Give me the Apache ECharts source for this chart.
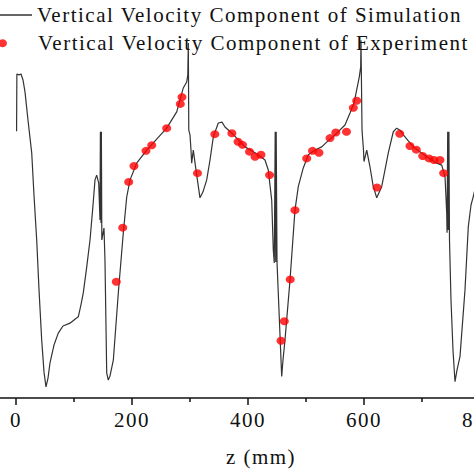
<!DOCTYPE html>
<html>
<head>
<meta charset="utf-8">
<script src="https://cdn.jsdelivr.net/npm/echarts@6/dist/echarts.min.js"></script>
<style>
  html, body { margin: 0; padding: 0; background: #fff; }
  #chart { width: 474px; height: 474px; }
  /* the original figure has wide tracking on all its text */
  #chart text { letter-spacing: 1.5px; }
</style>
</head>
<body>
<div id="chart"></div>
<script>
// simulation curve, z in mm, vertical velocity (arbitrary units, y axis is cropped off)
var simZ = [1,1.2,1.5,5.2,8.6,12.1,15.5,20.7,27.1,31,
  35.7,39.7,44.3,48.3,51.7,55.2,58.6,65.5,72.9,81,
  93.1,101.7,107.4,112,116,121.9,127.6,132.8,136.2,139.1,
  142.6,144.8,145.5,146.5,147.2,148,151.7,153.4,156.4,159.1,
  162,167.8,176.4,185,190.9,196.6,208.1,225.3,236.7,259.8,
  277.1,288.4,294.3,296.2,297.1,297.9,300,301.7,302.9,305.7,
  310.3,317.2,322.4,328.8,334.5,340.2,348.8,355.2,360.3,371.9,
  394.8,417.8,429.3,435,437.9,440.9,443.6,445.3,446.9,447.8,
  448.6,450,453.4,458.1,460.3,463.8,472.4,481,486.7,495.3,
  504,515.5,527.1,537.9,550,567.2,575.9,582.8,587.4,591.9,
  594.3,594.8,596.6,599.1,600,604.7,610.3,615.5,621.9,630.5,
  636.2,641.9,650.5,656.4,662.1,667.8,685,708.1,725.3,734,
  739.7,742.6,743.2,744.3,745.3,746.4,747.4,750,753.4,756.9,
  760.3,765.5,774.1,779.8,784.5,788.4,793,800];
var simV = [67,73,81.4,81.2,81.4,79.9,76.9,69.8,61.6,51,
  39.7,27.1,14.6,6.5,2.8,5,8.8,13.3,16.3,18.1,
  18.8,19.8,20.4,23.4,26.4,32.9,39.7,48.5,54.8,56,
  54,44.7,66.9,44,66.9,39.7,42.7,34.7,6.3,4.5,
  5.5,9.5,26.4,41.5,50.5,54.8,59,62.3,64.1,67.8,
  71.9,77.9,79.4,81.2,89.2,67.3,66.1,62.3,59,62.3,
  57.3,50.3,51.8,54.8,59.8,65.6,69.1,69.3,68.1,66.6,
  63.1,61.1,59.8,57.3,53.5,49.7,37.2,33.9,66.9,34.2,
  66.9,34.2,22.1,5.4,9.5,14.6,29.6,47.2,53.1,57.8,
  61.1,62.3,63.1,64.6,66.1,68.6,71.6,74.1,77.4,80.7,
  83.2,89.9,67.3,62.3,59.4,62.3,58.1,53.5,50.3,53.1,
  57.3,61.6,66.9,67.8,67.3,66.1,63.1,60.6,59,58.5,
  55.6,46.4,41.5,66.9,42.2,66.9,39.7,24.6,12.1,4.1,
  7,10.4,27.1,43,48.5,50.6,53.5,56];

// experiment points
var expZ = [172.9,184,194.3,203.4,224.1,234,259.8,283.3,286.2,312.9,
  342.8,372.2,382.8,390.5,402.6,412.1,422.4,437.2,456.9,462.6,
  472.8,481,501.2,511.2,522.4,541.4,551.4,569.8,581.6,587.4,
  622.4,661.6,679.3,690.2,701.2,712.1,720.7,731,737.4];
var expV = [29.2,42.8,54.3,58.3,62.1,63.5,67.8,73.9,75.6,56.5,
  66.3,66.5,64.4,63.6,61.9,60.6,61.1,56,14.4,19.3,
  29.8,47.2,60.2,62.1,61.6,65.3,66.7,66.9,72.9,74.7,
  52.9,66.4,63.3,62.4,60.8,60.2,59.8,59.8,56.5];

var simName = 'Vertical Velocity Component of Simulation';
var expName = 'Vertical Velocity Component of Experiment';

var font = '"Liberation Serif", "Times New Roman", serif';

var simData = simZ.map(function (z, i) { return [z, simV[i]]; });
var expData = expZ.map(function (z, i) { return [z, expV[i]]; });

// dot on the left of a wide icon box so the text lines up with the first row
var dotIcon = 'path://M0,4.5a4.5,4 0 1,0 9,0a4.5,4 0 1,0 -9,0z M35,0 L35,0.01 L34.99,0.01 Z';

var myChart = echarts.init(document.getElementById('chart'), null, {renderer: 'svg'});
var option = {
    animation: false,
    backgroundColor: '#fff',
    textStyle: {
        fontFamily: font,
        color: '#111'
    },
    legend: [{
        data: [{name: simName, icon: 'rect'}],
        left: 0,
        top: 3,
        padding: 0,
        itemWidth: 32,
        itemHeight: 1.5,
        itemGap: 0,
        textStyle: {
            fontFamily: font,
            fontSize: 21,
            color: '#111',
            lineHeight: 24
        }
    }, {
        data: [{name: expName, icon: dotIcon}],
        left: -2,
        top: 31,
        padding: 0,
        itemWidth: 35,
        itemHeight: 9,
        itemGap: 0,
        textStyle: {
            fontFamily: font,
            fontSize: 21,
            color: '#111',
            lineHeight: 24
        }
    }],
    grid: {
        left: -100,
        right: -122,
        top: 0,
        bottom: 76,
        outerBoundsMode: 'none'
    },
    xAxis: {
        type: 'value',
        min: -200,
        max: 1000,
        interval: 200,
        name: 'z (mm)',
        nameLocation: 'middle',
        nameGap: 48,
        nameTextStyle: {
            fontFamily: font,
            fontSize: 21,
            color: '#111',
            padding: [0, 0, 0, 26]
        },
        axisLine: {
            onZero: false,
            lineStyle: {color: '#111', width: 1.5}
        },
        axisTick: {
            length: 7,
            lineStyle: {color: '#111', width: 1.5}
        },
        minorTick: {
            show: true,
            splitNumber: 2,
            length: 4,
            lineStyle: {color: '#111', width: 1.5}
        },
        axisLabel: {
            margin: 11,
            fontFamily: font,
            fontSize: 21,
            color: '#111'
        },
        splitLine: {show: false}
    },
    yAxis: {
        type: 'value',
        min: 0,
        max: 100,
        show: false
    },
    series: [{
        name: simName,
        type: 'line',
        data: simData,
        symbol: 'none',
        itemStyle: {color: '#333'},
        lineStyle: {color: '#333', width: 1.2},
        z: 2
    }, {
        name: expName,
        type: 'scatter',
        data: expData,
        symbol: 'circle',
        symbolSize: [9, 8],
        itemStyle: {color: '#f00'},
        z: 3
    }]
};
myChart.setOption(option);
</script>
</body>
</html>
